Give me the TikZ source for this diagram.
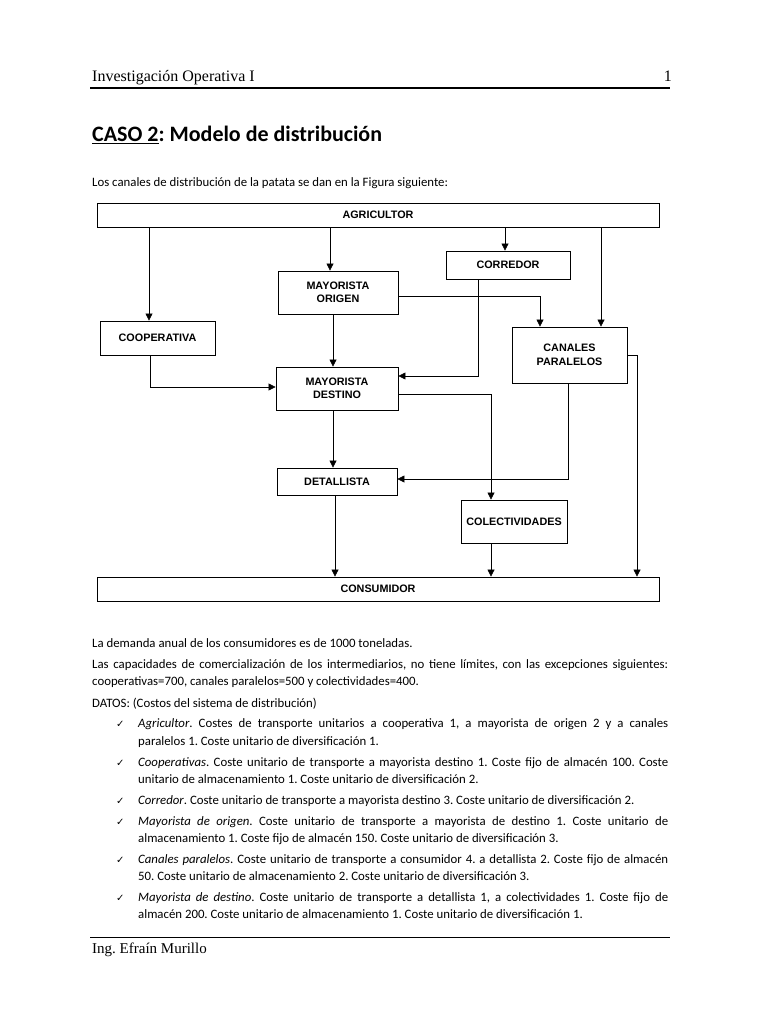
\documentclass[tikz,border=0pt]{standalone}
\usepackage{fontspec}
\setmainfont{Carlito}
\newfontfamily\hdrfont{Liberation Serif}
\newfontfamily\boxfont{Liberation Sans}
\newfontfamily\symfont{DejaVu Sans}
\usetikzlibrary{arrows.meta}
\frenchspacing

\newcommand{\lineajust}[1]{\makebox[576pt][s]{#1}}
\newcommand{\itemjust}[1]{\makebox[530pt][s]{#1}}

\tikzset{
  caja/.style={draw, rectangle, line width=0.8pt, inner sep=0pt, align=center,
    font=\boxfont\fontsize{10.8}{13.5}\selectfont\bfseries},
  flecha/.style={-{Triangle[width=7pt,length=7pt]}, line width=0.6pt},
  txt/.style={anchor=base west, inner sep=0pt, font=\fontsize{12.8}{14}\selectfont},
  marca/.style={anchor=base west, inner sep=0pt, font=\symfont\fontsize{10}{12}\selectfont},
  hdr/.style={anchor=base west, inner sep=0pt, font=\hdrfont\fontsize{16}{18}\selectfont}
}

\begin{document}
\begin{tikzpicture}[x=1pt,y=-1pt]
    \useasboundingbox (0,0) rectangle (768,1024);
    % header
    \node[hdr] (cabecera) at (92,82) {Investigación Operativa I};
    \node[hdr, anchor=base east] (pagina) at (672,82) {1};
    \draw[line width=1.2pt] (90,88) -- (670,88);
    \node[anchor=base west, inner sep=0pt, font=\fontsize{22}{26}\selectfont\bfseries] (titulo) at (92,142)
        {\underline{CASO 2}: Modelo de distribución};
    \node[txt] (intro) at (92,187) {Los canales de distribución de la patata se dan en la Figura siguiente:};

    % diagram
    \node[caja, minimum width=562pt, minimum height=24pt] (agricultor) at (378,215) {AGRICULTOR};
    \node[caja, minimum width=124pt, minimum height=28pt] (corredor) at (508,265) {CORREDOR};
    \node[caja, minimum width=120pt, minimum height=43pt] (mayorigen) at (338,292.5) {MAYORISTA\\ORIGEN};
    \node[caja, minimum width=115pt, minimum height=34pt] (cooperativa) at (157.5,338) {COOPERATIVA};
    \node[caja, minimum width=115pt, minimum height=56pt] (canales) at (569.5,355) {CANALES\\PARALELOS};
    \node[caja, minimum width=122pt, minimum height=43pt] (maydestino) at (337,388.5) {MAYORISTA\\DESTINO};
    \node[caja, minimum width=120pt, minimum height=27pt] (detallista) at (337,481.5) {DETALLISTA};
    \node[caja, minimum width=106pt, minimum height=43pt] (colectividades) at (514,521.5) {COLECTIVIDADES};
    \node[caja, minimum width=562pt, minimum height=24pt] (consumidor) at (378,589) {CONSUMIDOR};

    \draw[flecha] (agricultor.south -| 149,0) -- (cooperativa.north -| 149,0);
    \draw[flecha] (agricultor.south -| 330,0) -- (mayorigen.north -| 330,0);
    \draw[flecha] (agricultor.south -| 505,0) -- (corredor.north -| 505,0);
    \draw[flecha] (agricultor.south -| 601,0) -- (canales.north -| 601,0);
    \draw[flecha] (mayorigen.east |- 0,296) -| (canales.north -| 540,0);
    \draw[flecha] (corredor.south -| 478,0) |- (maydestino.east |- 0,376);
    \draw[flecha] (mayorigen.south -| 333,0) -- (maydestino.north -| 333,0);
    \draw[flecha] (cooperativa.south -| 150,0) |- (maydestino.west |- 0,387);
    \draw[flecha] (maydestino.east |- 0,394) -| (colectividades.north -| 491,0);
    \draw[flecha] (maydestino.south -| 333,0) -- (detallista.north -| 333,0);
    \draw[flecha] (canales.south -| 568,0) |- (detallista.east |- 0,479);
    \draw[flecha] (canales.east |- 0,355) -| (consumidor.north -| 637,0);
    \draw[flecha] (detallista.south -| 335,0) -- (consumidor.north -| 335,0);
    \draw[flecha] (colectividades.south -| 491,0) -- (consumidor.north -| 491,0);

    % text below the figure
    \node[txt] (demanda) at (92,647) {La demanda anual de los consumidores es de 1000 toneladas.};
    \node[txt] (capac1) at (92,668) {\lineajust{Las capacidades de comercialización de los intermediarios, no tiene límites, con las excepciones siguientes:}};
    \node[txt] (capac2) at (92,685) {cooperativas=700, canales paralelos=500 y colectividades=400.};
    \node[txt] (datos) at (92,707) {DATOS: (Costos del sistema de distribución)};

    \node[marca] (m1) at (116,727) {✓};
    \node[txt] (d1a) at (138,727) {\itemjust{\textit{Agricultor}. Costes de transporte unitarios a cooperativa 1, a mayorista de origen 2 y a canales}};
    \node[txt] (d1b) at (138,745) {paralelos 1. Coste unitario de diversificación 1.};
    \node[marca] (m2) at (116,766) {✓};
    \node[txt] (d2a) at (138,766) {\itemjust{\textit{Cooperativas}. Coste unitario de transporte a mayorista destino 1. Coste fijo de almacén 100. Coste}};
    \node[txt] (d2b) at (138,783) {unitario de almacenamiento 1. Coste unitario de diversificación 2.};
    \node[marca] (m3) at (116,804) {✓};
    \node[txt] (d3a) at (138,804) {\textit{Corredor}. Coste unitario de transporte a mayorista destino 3. Coste unitario de diversificación 2.};
    \node[marca] (m4) at (116,825) {✓};
    \node[txt] (d4a) at (138,825) {\itemjust{\textit{Mayorista de origen}. Coste unitario de transporte a mayorista de destino 1. Coste unitario de}};
    \node[txt] (d4b) at (138,842) {almacenamiento 1. Coste fijo de almacén 150. Coste unitario de diversificación 3.};
    \node[marca] (m5) at (116,863) {✓};
    \node[txt] (d5a) at (138,863) {\itemjust{\textit{Canales paralelos}. Coste unitario de transporte a consumidor 4. a detallista 2. Coste fijo de almacén}};
    \node[txt] (d5b) at (138,880) {50. Coste unitario de almacenamiento 2. Coste unitario de diversificación 3.};
    \node[marca] (m6) at (116,901) {✓};
    \node[txt] (d6a) at (138,901) {\itemjust{\textit{Mayorista de destino}. Coste unitario de transporte a detallista 1, a colectividades 1. Coste fijo de}};
    \node[txt] (d6b) at (138,918) {almacén 200. Coste unitario de almacenamiento 1. Coste unitario de diversificación 1.};

    % footer
    \draw[line width=1pt] (90,937) -- (670,937);
    \node[hdr, font=\hdrfont\fontsize{15}{17}\selectfont] (pie) at (92,953) {Ing. Efraín Murillo};
\end{tikzpicture}
\end{document}
